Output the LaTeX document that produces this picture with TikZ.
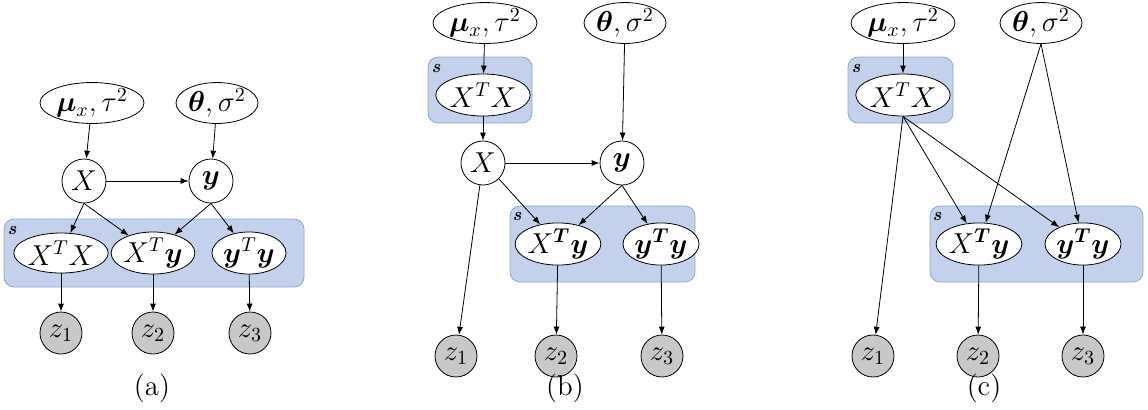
\documentclass[tikz,border=0pt]{standalone}
\usepackage{bm}
\usetikzlibrary{shapes.geometric,arrows.meta}
\definecolor{plate}{HTML}{C3D1EC}
\definecolor{plateb}{HTML}{8FA6CF}
\definecolor{obs}{HTML}{C8C8C8}
\begin{document}
\begin{tikzpicture}[x=0.5pt,y=-0.5pt,
  ell/.style={draw,ellipse,fill=white,inner sep=0pt,minimum height=20pt,font=\Large},
  lat/.style={draw,circle,fill=white,inner sep=0pt,minimum size=22pt,font=\Large},
  ob/.style={draw,circle,fill=obs,inner sep=0pt,minimum size=21pt,font=\Large},
  pl/.style={draw=plateb,fill=plate,rounded corners=5pt},
  sl/.style={font=\small\bfseries\itshape,inner sep=0pt},
  ar/.style={-{Latex[length=4pt,width=3pt]},thin},
  captxt/.style={font=\Large}]
\useasboundingbox (0,0) rectangle (1148,409);
% (a)
\draw[pl] (4,219) rectangle (304,287);
\node[sl] (sa) at (12,230) {s};
\node[ell,minimum width=52pt] (amu) at (92,103) {$\bm{\mu}_x,\tau^2$};
\node[ell,minimum width=41pt] (ath) at (217,103) {$\bm{\theta},\sigma^2$};
\node[lat] (aX) at (84,181) {$X$};
\node[lat] (ay) at (211,181) {$\bm{y}$};
\node[ell,minimum width=37pt] (axx) at (61,253) {$X^TX$};
\node[ell,minimum width=37pt] (axy) at (153,253) {$X^T\bm{y}$};
\node[ell,minimum width=37pt] (ayy) at (249,253) {$\bm{y}^T\bm{y}$};
\node[ob] (az1) at (61,333) {$z_1$};
\node[ob] (az2) at (153,333) {$z_2$};
\node[ob] (az3) at (250,333) {$z_3$};
\node[captxt] (ca) at (152,388) {(a)};
\draw[ar] (amu) -- (aX);
\draw[ar] (ath) -- (ay);
\draw[ar] (aX) -- (ay);
\draw[ar] (aX.south) -- (axx);
\draw[ar] (aX.south) -- (axy);
\draw[ar] (ay.south) -- (axy);
\draw[ar] (ay.south) -- (ayy);
\draw[ar] (axx) -- (az1);
\draw[ar] (axy) -- (az2);
\draw[ar] (ayy) -- (az3);
% (b)
\draw[pl] (428,57) rectangle (532,123);
\node[sl] (sb1) at (436,68) {s};
\draw[pl] (510,206) rectangle (695,282);
\node[sl] (sb2) at (517,216) {s};
\node[ell,minimum width=52pt] (bmu) at (485,23) {$\bm{\mu}_x,\tau^2$};
\node[ell,minimum width=41pt] (bth) at (625,23) {$\bm{\theta},\sigma^2$};
\node[ell,minimum width=38pt,minimum height=21pt] (bxx) at (483,95) {$X^TX$};
\node[lat] (bX) at (483,163) {$X$};
\node[lat] (by) at (622,163) {$\bm{y}$};
\node[ell,minimum width=38pt,minimum height=21pt] (bxy) at (558,244) {$X^{\bm{T}}\bm{y}$};
\node[ell,minimum width=38pt,minimum height=21pt] (byy) at (661,244) {$\bm{y}^{\bm{T}}\bm{y}$};
\node[ob] (bz1) at (456,356) {$z_1$};
\node[ob] (bz2) at (556,356) {$z_2$};
\node[ob] (bz3) at (662,356) {$z_3$};
\node[captxt] (cb) at (565,388) {(b)};
\draw[ar] (bmu) -- (bxx);
\draw[ar] (bxx) -- (bX);
\draw[ar] (bth) -- (by);
\draw[ar] (bX) -- (by);
\draw[ar] (bX.south east) -- (bxy);
\draw[ar] (by.south) -- (bxy);
\draw[ar] (by.south) -- (byy);
\draw[ar] (bX) -- (bz1);
\draw[ar] (bxy) -- (bz2);
\draw[ar] (byy) -- (bz3);
% (c)
\draw[pl] (848,57) rectangle (953,123);
\node[sl] (sc1) at (856,68) {s};
\draw[pl] (930,206) rectangle (1143,282);
\node[sl] (sc2) at (937,216) {s};
\node[ell,minimum width=52pt] (cmu) at (903,23) {$\bm{\mu}_x,\tau^2$};
\node[ell,minimum width=41pt] (cth) at (1041,23) {$\bm{\theta},\sigma^2$};
\node[ell,minimum width=38pt,minimum height=21pt] (cxx) at (903,95) {$X^TX$};
\node[ell,minimum width=38pt,minimum height=21pt] (cxy) at (979,244) {$X^{\bm{T}}\bm{y}$};
\node[ell,minimum width=38pt,minimum height=21pt] (cyy) at (1083,244) {$\bm{y}^{\bm{T}}\bm{y}$};
\node[ob] (cz1) at (873,356) {$z_1$};
\node[ob] (cz2) at (978,356) {$z_2$};
\node[ob] (cz3) at (1083,356) {$z_3$};
\node[captxt] (cc) at (984,388) {(c)};
\draw[ar] (cmu) -- (cxx);
\draw[ar] (cxx.south) -- (cz1);
\draw[ar] (cxx.south) -- (cxy);
\draw[ar] (cxx.south) -- (cyy);
\draw[ar] (cth.south) -- (cxy);
\draw[ar] (cth.south) -- (cyy);
\draw[ar] (cxy) -- (cz2);
\draw[ar] (cyy) -- (cz3);
\end{tikzpicture}
\end{document}
